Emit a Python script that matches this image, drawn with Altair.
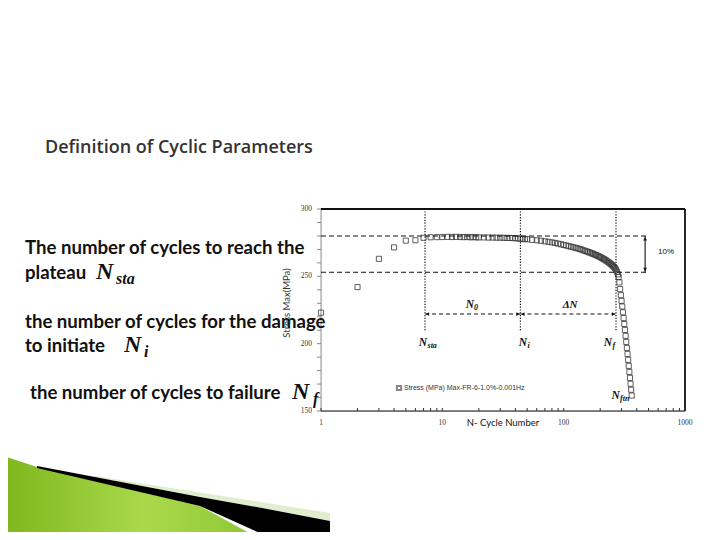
import altair as alt
import pandas as pd

# ---------------- data ----------------
cycles = [1, 2, 3, 4, 5, 6, 7, 8, 9, 10, 11, 12, 13, 14, 15, 16, 17, 18, 19, 20,
          22, 24, 26, 28, 30, 32, 34, 36, 38, 40, 42, 44, 46, 48, 50,
          55, 60, 65, 70, 75, 80, 85, 90, 95, 100, 105, 110, 115, 120, 125, 130,
          135, 140, 145, 150, 155, 160, 165, 170, 175, 180, 185, 190, 195, 200,
          205, 210, 215, 220, 225, 230, 235, 240, 245, 250, 255, 260, 265, 270,
          275, 280, 284, 288, 292, 296, 300, 304, 308, 312, 316, 320, 324, 328,
          332, 336, 340, 344, 348, 352, 356, 360, 364]
stress = [223.0, 242.0, 263.0, 271.5, 276.5, 276.8, 278.6, 279.0, 279.1, 279.2,
          279.3, 279.2, 279.3, 279.2, 279.1, 279.2, 279.0, 279.1, 279.0, 278.9,
          278.9, 278.8, 278.8, 278.7, 278.7, 278.6, 278.5, 278.5, 278.4, 278.3,
          278.1, 278.0, 277.8, 277.7, 277.5,
          277.1, 276.8, 276.4, 276.0, 275.6, 275.2, 274.8, 274.3, 273.8, 273.3,
          272.9, 272.4, 272.0, 271.6, 271.2, 270.8, 270.3, 269.9, 269.4, 268.9,
          268.5, 268.0, 267.6, 267.1, 266.7, 266.2, 265.8, 265.3, 264.8, 264.3,
          263.8, 263.3, 262.7, 262.2, 261.6, 261.0, 260.4, 259.8, 259.1, 258.4,
          257.7, 256.9, 256.0, 255.0, 253.4, 251.5, 249.5, 245.5, 240.5, 236.0,
          231.8, 227.6, 223.3, 219.0, 214.6, 210.2, 205.8, 201.3, 196.8, 192.4,
          188.0, 183.5, 179.0, 174.6, 170.2, 165.8, 161.5]

plateau_levels = [280, 253]          # upper / lower dashed lines (10% band)
band_end_cycle = 478
n_sta, n_i, n_f = 7.2, 44, 270       # characteristic cycle numbers
vline_bottom, vline_top = 210, 300
arrow_level = 222
pct_arrow_cycle = 469

y_ticks = [150, 160, 170, 180, 190, 200, 210, 220, 230, 240, 250, 260, 270, 280, 290, 300]
y_labels = [150, 200, 250, 300]
x_ticks = [1, 2, 3, 4, 5, 6, 7, 8, 9, 10, 20, 30, 40, 50, 60, 70, 80, 90,
           100, 200, 300, 400, 500, 600, 700, 800, 900, 1000]
x_labels = [1, 10, 100, 1000]

slide_title = "Definition of Cyclic Parameters"
slide_lines = ["The number of cycles to reach the", "plateau",
               "the number of cycles for the damage", "to initiate",
               "the number of cycles to failure"]
legend_text = "Stress (MPa) Max-FR-6-1.0%-0.001Hz"
x_title = "N- Cycle Number"
y_title = "Stress Max(MPa)"

# decoration (slide theme swoosh), page pixel coordinates
deco_green_x = [0, 37, 200, 262]
deco_green_top = [455, 467, 506, 540]
deco_green_bot = [540, 540, 540, 540]
deco_black_x = [37, 200, 262, 330]
deco_black_top = [466, 497, 508, 521]
deco_black_bot = [468, 506, 534, 545]
deco_light_x = [95, 330]
deco_light_top = [476, 513]
deco_light_bot = [477, 521]

# ---------------- layout ----------------
OX, OY = 321, 209      # page position of plot origin
W, H = 364, 202
one = alt.Data(values=[{"k": 0}])

XS = alt.Scale(type="log", domain=[1, 1000])
YS = alt.Scale(domain=[150, 300], zero=False, nice=False)

def FX(f):
    return alt.X(f, type="quantitative", scale=XS, axis=None)

def FY(f):
    return alt.Y(f, type="quantitative", scale=YS, axis=None)

df = pd.DataFrame({"cycle": cycles, "stress": stress})

points = alt.Chart(df).mark_point(
    shape="square", filled=False, size=26, color="#3a3a3a", strokeWidth=0.9, opacity=0.9
).encode(x=FX("cycle"), y=FY("stress"))

# ---- hand-made axes and frame ----
def prule(color, width, x, y, x2=None, y2=None):
    enc = {"x": alt.value(x), "y": alt.value(y)}
    if x2 is not None:
        enc["x2"] = alt.value(x2)
    if y2 is not None:
        enc["y2"] = alt.value(y2)
    return alt.Chart(one).mark_rule(color=color, strokeWidth=width).encode(**enc)

frame = [
    prule("#999999", 1, 0, 0, y2=H),          # left axis line
    prule("#111111", 1.2, 0, H, x2=W),         # bottom axis line
    prule("#111111", 1.8, 0, 0, x2=W),         # top border
    prule("#111111", 1.8, W, 0, y2=H),         # right border
]

yt_df = pd.DataFrame({"t": y_ticks})
y_tick_rules = alt.Chart(yt_df).mark_rule(color="#888", strokeWidth=1).encode(
    y=FY("t"), x=alt.value(-4), x2=alt.value(0))
yl_df = pd.DataFrame({"t": y_labels})
y_label_text = alt.Chart(yl_df).mark_text(
    font="Liberation Serif", fontSize=7.5, color="#333", align="right", baseline="middle"
).encode(y=FY("t"), x=alt.value(-9), text=alt.Text("t:Q", format="d"))

xt_df = pd.DataFrame({"v": x_ticks})
x_tick_rules = alt.Chart(xt_df).mark_rule(color="#333", strokeWidth=1).encode(
    x=FX("v"), y=alt.value(H - 3), y2=alt.value(H))
xl_df = pd.DataFrame({"v": x_labels})
x_label_text = alt.Chart(xl_df).mark_text(
    font="Liberation Serif", fontSize=7.5, color="#333", align="center", baseline="middle"
).encode(x=FX("v"), y=alt.value(H + 12), text=alt.Text("v:Q", format="d"))

# ---- annotation lines ----
hl_df = pd.DataFrame({"lvl": plateau_levels, "x0": [1, 1],
                      "x1": [band_end_cycle, band_end_cycle]})
hlines = alt.Chart(hl_df).mark_rule(color="#111", strokeWidth=1.1, strokeDash=[5, 3]).encode(
    y=FY("lvl"), x=FX("x0"), x2="x1:Q")

vl_df = pd.DataFrame({"n": [n_sta, n_i, n_f], "lo": [vline_bottom] * 3, "hi": [vline_top] * 3})
vlines = alt.Chart(vl_df).mark_rule(color="#111", strokeWidth=1.2, strokeDash=[1.2, 1.6]).encode(
    x=FX("n"), y=FY("lo"), y2="hi:Q")

seg_df = pd.DataFrame({"a": [n_sta, n_i], "b": [n_i, n_f], "lvl": [arrow_level, arrow_level]})
segs = alt.Chart(seg_df).mark_rule(color="#111", strokeWidth=1.1, strokeDash=[4, 3]).encode(
    x=FX("a"), x2="b:Q", y=FY("lvl"))

pct_df = pd.DataFrame({"c": [pct_arrow_cycle], "top": [plateau_levels[0]], "bot": [plateau_levels[1]]})
pct_line = alt.Chart(pct_df).mark_rule(color="#111", strokeWidth=1.1).encode(
    x=FX("c"), y=FY("top"), y2="bot:Q")

def head(xv, yv, shape, xo=0, yo=0, size=14):
    d = pd.DataFrame({"hx": [xv], "hy": [yv]})
    return alt.Chart(d).mark_point(shape=shape, filled=True, color="#111", size=size,
                                   xOffset=xo, yOffset=yo, opacity=1).encode(x=FX("hx"), y=FY("hy"))

heads = [
    head(n_sta, arrow_level, "triangle-left", 2.5),
    head(n_i, arrow_level, "triangle-right", -2.5),
    head(n_i, arrow_level, "triangle-left", 2.5),
    head(n_f, arrow_level, "triangle-right", -2.5),
    head(pct_arrow_cycle, plateau_levels[0], "triangle-up", 0, 3),
    head(pct_arrow_cycle, plateau_levels[1], "triangle-down", 0, -3),
]

def dlabel(s, xv, yv, dx, size=11.5, align="center", dy=0):
    d = pd.DataFrame({"lx": [xv], "ly": [yv]})
    return alt.Chart(d).mark_text(text=s, font="Liberation Serif", fontStyle="italic",
                                  fontWeight="bold", fontSize=size, color="#111",
                                  align=align, baseline="middle", dx=dx, dy=dy).encode(
        x=FX("lx"), y=FY("ly"))

ann = [
    dlabel("N", n_sta, 200.5, -2),
    dlabel("sta", n_sta, 200.5, 2.5, size=8, align="left", dy=3),
    dlabel("N", n_i, 200.5, 2.5),
    dlabel("i", n_i, 200.5, 7, size=8, align="left", dy=3),
    dlabel("N", n_f, 200.5, -8),
    dlabel("f", n_f, 200.5, -3.5, size=8, align="left", dy=3),
    dlabel("N", 300, 161, -6),
    dlabel("ftn", 300, 161, -1.5, size=8, align="left", dy=3),
    dlabel("N", 17.2, 229, -1),
    dlabel("0", 17.2, 229, 3, size=8, align="left", dy=3),
    dlabel("ΔN", 113, 229, 0, size=11),
]

def txt(s, px, py, size, font="Lato", weight="bold", style="normal", color="#111",
        align="left", angle=0, baseline="alphabetic"):
    return alt.Chart(one).mark_text(text=s, font=font, fontSize=size, fontWeight=weight,
                                    fontStyle=style, color=color, align=align,
                                    baseline=baseline, angle=angle).encode(
        x=alt.value(px - OX), y=alt.value(py - OY))

MATH = "Liberation Serif"
texts = [
    txt(slide_title, 45, 153, 18, font="Open Sans", weight=600, color="#333333"),
    txt(slide_lines[0], 25, 254, 18.6),
    txt(slide_lines[1], 25, 279, 18.6),
    txt(slide_lines[2], 25, 328, 18.6),
    txt(slide_lines[3], 25, 352, 18.6),
    txt(slide_lines[4], 30, 399, 18.6),
    txt("N", 96, 279, 24, font=MATH, style="italic"),
    txt("sta", 116, 284, 16, font=MATH, style="italic"),
    txt("N", 124, 352, 24, font=MATH, style="italic"),
    txt("i", 144, 357, 16, font=MATH, style="italic"),
    txt("N", 292, 399, 24, font=MATH, style="italic"),
    txt("f", 313, 404, 16, font=MATH, style="italic"),
    txt("10%", 658, 252, 8, font="Liberation Sans", weight="normal", baseline="middle"),
    txt(legend_text, 404, 388, 7, font="Liberation Sans", weight="normal", color="#333", baseline="middle"),
    txt(x_title, 503, 423, 9.5, font="Lato", weight="normal", color="#111", align="center", baseline="middle"),
    txt(y_title, 287, 303, 9.5, font="Lato", weight="normal", color="#333", align="center", baseline="middle", angle=270),
]
legend_mark = alt.Chart(one).mark_point(shape="square", filled=False, size=18, color="#555").encode(
    x=alt.value(399 - OX), y=alt.value(388 - OY))

# decoration: page pixels converted into the shared (log x, linear y) scales
px_to_cycle = f"pow(10, (datum.px - {OX}) * 3 / {W})"
def deco_area(xs, tops, bots, color):
    d = pd.DataFrame({"px": xs, "pt": tops, "pb": bots})
    return alt.Chart(d).transform_calculate(
        cx=px_to_cycle,
        st=f"300 - (datum.pt - {OY}) * 150 / {H}",
        sb=f"300 - (datum.pb - {OY}) * 150 / {H}",
    ).mark_area(color=color, clip=False).encode(
        x=FX("cx"), y=FY("st"), y2="sb:Q")

green_fill = alt.Gradient(gradient="linear", x1=0, x2=1, y1=0, y2=0,
                          stops=[alt.GradientStop(color="#7db51c", offset=0),
                                 alt.GradientStop(color="#a9d94b", offset=0.55),
                                 alt.GradientStop(color="#8ec634", offset=1)])
deco = [
    deco_area(deco_green_x, deco_green_top, deco_green_bot, green_fill),
    deco_area(deco_light_x, deco_light_top, deco_light_bot, "#e0edcf"),
    deco_area(deco_black_x, deco_black_top, deco_black_bot, "#000000"),
]

chart = alt.layer(*deco, *frame, y_tick_rules, y_label_text, x_tick_rules, x_label_text,
                  points, hlines, vlines, segs, pct_line, *heads, *ann, legend_mark,
                  *texts).properties(
    width=W, height=H,
    autosize=alt.AutoSizeParams(type="none"),
    padding={"left": OX - 8, "top": OY - 8, "right": 720 - 16 - (OX - 8) - W, "bottom": 540 - 16 - (OY - 8) - H},
).configure_view(strokeWidth=0).configure(background="white")

chart.save("out.html", embed_options={"renderer": "svg", "actions": False})
